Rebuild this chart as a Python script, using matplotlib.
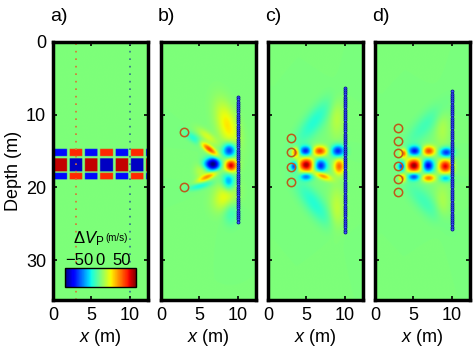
import numpy as np
import matplotlib.pyplot as plt

plt.rcParams['font.family'] = ['Liberation Sans', 'DejaVu Sans']
plt.rcParams['mathtext.fontset'] = 'custom'
plt.rcParams['mathtext.rm'] = 'Liberation Sans'
plt.rcParams['mathtext.it'] = 'Liberation Sans:italic'

# model extent and colour limits (m, m/s)
x_max = 12.4
depth_max = 35.5
v_lim = 85

# panel a: true model, three rows of alternating cells
a_col_centers = [1, 3, 5, 7, 9, 11, 13]
a_cell_width = 1.65
a_row_tops = [14.7, 16.0, 18.0]
a_row_bottoms = [15.7, 17.8, 18.9]
a_row_top_vals = [-62, 62, -62, 62, -62, 62, -62]
a_row_mid_vals = [75, -75, 75, -75, 75, -75, 75]
a_row_bot_vals = [-62, 62, -62, 62, -62, 62, -62]
a_src_line_x = 3
a_rec_line_x = 10

# sources (x, depths) and receiver line (x, top, bottom) for b, c, d
src_x = 3
b_src_z = [12.4, 20.0]
c_src_z = [13.2, 15.2, 17.2, 19.2]
d_src_z = [11.8, 13.6, 15.3, 17.1, 18.8, 20.6]
rec_x = 10
b_rec = (7.6, 24.8)
c_rec = (6.3, 26.2)
d_rec = (6.8, 25.7)
rec_step = 0.3

# recovered anomalies: (x, depth, dVp, size_x, size_z, tilt deg)
b_blobs = [
    (6.85, 16.8, -74, 0.6, 0.65, 0),
    (9.05, 17.0, 72, 0.55, 0.62, 0),
    (8.85, 14.9, -60, 0.6, 0.7, 0),
    (8.75, 19.2, -40, 0.55, 0.85, 0),
    (6.2, 14.7, 60, 1.05, 0.32, 40),
    (6.1, 18.5, 42, 1.05, 0.3, -28),
    (4.5, 13.4, -22, 1.1, 0.38, 35),
    (6.0, 13.0, 18, 1.1, 0.42, 40),
    (8.6, 11.5, 28, 0.9, 2.3, -15),
    (6.0, 16.8, -30, 0.6, 0.55, 0),
    (5.0, 19.8, -22, 1.1, 0.32, -15),
    (8.3, 21.3, 24, 1.0, 1.4, 20),
    (9.0, 23.4, -14, 0.7, 1.2, 0),
    (5.2, 17.7, 14, 0.6, 0.8, 0),
]
c_blobs = [
    (3.6, 15.2, 55, 0.32, 0.45, 0),
    (3.4, 17.1, -55, 0.32, 0.45, 0),
    (4.95, 15.0, -60, 0.58, 0.48, 0),
    (6.75, 15.0, 60, 0.68, 0.48, 0),
    (9.15, 15.0, -60, 0.62, 0.58, 0),
    (5.0, 16.9, 80, 0.7, 0.68, 0),
    (6.85, 17.0, -60, 0.58, 0.62, 0),
    (9.3, 17.1, 52, 0.48, 0.75, 0),
    (5.0, 18.5, -45, 0.58, 0.38, 0),
    (7.1, 18.4, 45, 0.85, 0.32, 22),
    (6.0, 11.0, -18, 2.6, 0.85, -55),
    (6.0, 22.2, -18, 2.6, 0.85, 55),
    (9.0, 10.5, 12, 0.7, 2.0, 0),
    (9.0, 23.0, 14, 0.7, 2.2, 0),
]
d_blobs = [
    (3.75, 15.3, 55, 0.32, 0.42, 0),
    (3.5, 17.1, -60, 0.32, 0.45, 0),
    (3.6, 18.7, 45, 0.32, 0.38, 0),
    (5.2, 15.0, -62, 0.62, 0.48, 0),
    (7.0, 15.0, 60, 0.62, 0.48, 0),
    (9.3, 15.2, -58, 0.62, 0.48, 0),
    (5.1, 17.0, 82, 0.72, 0.68, 0),
    (6.9, 17.0, -68, 0.58, 0.62, 0),
    (9.2, 17.1, 70, 0.62, 0.68, 0),
    (5.1, 18.5, -55, 0.58, 0.38, 0),
    (7.0, 18.7, 50, 0.62, 0.38, 0),
    (9.2, 18.7, -35, 0.58, 0.38, 0),
    (6.5, 11.5, -12, 2.6, 0.85, -50),
    (6.5, 22.0, -12, 2.6, 0.85, 50),
    (8.8, 12.0, 10, 0.7, 1.8, 0),
    (8.8, 22.0, 10, 0.7, 1.8, 0),
]

cmap = plt.get_cmap('jet')
norm = plt.Normalize(-v_lim, v_lim)
green = cmap(norm(0))

xg = np.linspace(0, x_max, 250)
zg = np.linspace(0, depth_max, 710)
X, Z = np.meshgrid(xg, zg)


def blob_field(blobs):
    f = np.zeros_like(X)
    for x0, z0, amp, sx, sz, ang in blobs:
        t = np.radians(ang)
        u = (X - x0) * np.cos(t) + (Z - z0) * np.sin(t)
        v = -(X - x0) * np.sin(t) + (Z - z0) * np.cos(t)
        f += amp * np.exp(-0.5 * ((u / sx) ** 2 + (v / sz) ** 2))
    return f


def cell_field():
    f = np.zeros_like(X)
    rows = [a_row_top_vals, a_row_mid_vals, a_row_bot_vals]
    for z0, z1, vals in zip(a_row_tops, a_row_bottoms, rows):
        for xc, v in zip(a_col_centers, vals):
            inside = (np.abs(X - xc) <= a_cell_width / 2) & (Z >= z0) & (Z <= z1)
            f[inside] = v
    return f


fig = plt.figure(figsize=(4.74, 3.52), dpi=100)
lefts = [53, 161, 268, 375]
axes = [fig.add_axes([l / 474, 52 / 352, 95 / 474, 258 / 352]) for l in lefts]

for i, ax in enumerate(axes):
    ax.set_facecolor(green)
    ax.set_xlim(0, x_max)
    ax.set_ylim(depth_max, 0)
    ax.set_xticks([0, 5, 10])
    ax.set_yticks([0, 10, 20, 30])
    ax.tick_params(direction='in', top=True, right=True, length=3, width=1.2,
                   labelsize=13, pad=5, labelleft=(i == 0))
    for s in ax.spines.values():
        s.set_linewidth(2.5)
    ax.set_xlabel('$x$ (m)', fontsize=13, labelpad=2)
    ax.text(-0.03, 1.10, 'abcd'[i] + ')', transform=ax.transAxes,
            fontsize=14, ha='left', va='center')

# panel a
ax = axes[0]
ax.set_ylabel('Depth (m)', fontsize=13, labelpad=3)
ax.imshow(cell_field(), extent=[0, x_max, depth_max, 0], cmap=cmap, norm=norm,
          aspect='auto', interpolation='bilinear')
ax.axvline(a_src_line_x, color=(0.85, 0.45, 0.2), ls=(0, (1, 3.5)), lw=1.2)
ax.axvline(a_rec_line_x, color=(0.2, 0.45, 0.55), ls=(0, (1, 3.5)), lw=1.2)

cax = ax.inset_axes([0.126, 0.05, 0.747, 0.074])
cb = fig.colorbar(plt.cm.ScalarMappable(norm=norm, cmap=cmap), cax=cax,
                  orientation='horizontal', ticks=[-50, 0, 50])
cb.outline.set_linewidth(1)
cax.xaxis.set_ticks_position('top')
cax.tick_params(length=0, labelsize=12, pad=0)
ax.text(2.6, 27.7, r'$\Delta V_{\mathrm{P}}$', fontsize=12, ha='left', va='baseline')
ax.text(6.8, 27.4, '(m/s)', fontsize=7, ha='left', va='baseline')

# panels b, c, d
for ax, blobs, srcz, rec in zip(axes[1:], [b_blobs, c_blobs, d_blobs],
                                [b_src_z, c_src_z, d_src_z], [b_rec, c_rec, d_rec]):
    ax.imshow(blob_field(blobs), extent=[0, x_max, depth_max, 0], cmap=cmap,
              norm=norm, aspect='auto', interpolation='bilinear')
    rz = np.arange(rec[0], rec[1] + 1e-6, rec_step)
    ax.plot(np.full(len(rz), rec_x), rz, 'o', ms=2.2, mfc=(0.25, 0.35, 1.0),
            mec=(0, 0, 0.55), mew=0.5)
    ax.plot(np.full(len(srcz), src_x), srcz, 'o', ms=6, mfc='none',
            mec=(0.75, 0.35, 0.1), mew=1.1)

fig.savefig('out.png', dpi=100)
